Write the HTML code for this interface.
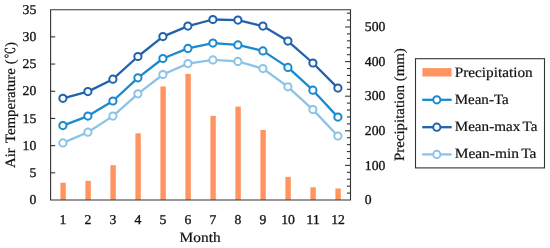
<!DOCTYPE html>
<html lang="en"><head><meta charset="utf-8"><title>Chart</title>
<style>html,body{margin:0;padding:0;background:#fff}svg{display:block}text{font-family:"Liberation Serif","DejaVu Serif","Noto Serif CJK SC",serif;fill:#111;text-rendering:geometricPrecision}</style></head>
<body>
<svg width="550" height="248" viewBox="0 0 550 248">
<rect width="550" height="248" fill="#fff"/>
<rect x="60.40" y="182.70" width="5.4" height="17.30" fill="#FF9460"/>
<rect x="85.40" y="180.90" width="5.4" height="19.10" fill="#FF9460"/>
<rect x="110.40" y="165.20" width="5.4" height="34.80" fill="#FF9460"/>
<rect x="135.40" y="133.30" width="5.4" height="66.70" fill="#FF9460"/>
<rect x="160.40" y="86.50" width="5.4" height="113.50" fill="#FF9460"/>
<rect x="185.40" y="73.90" width="5.4" height="126.10" fill="#FF9460"/>
<rect x="210.40" y="115.85" width="5.4" height="84.15" fill="#FF9460"/>
<rect x="235.40" y="106.60" width="5.4" height="93.40" fill="#FF9460"/>
<rect x="260.40" y="129.95" width="5.4" height="70.05" fill="#FF9460"/>
<rect x="285.40" y="176.85" width="5.4" height="23.15" fill="#FF9460"/>
<rect x="310.40" y="187.30" width="5.4" height="12.70" fill="#FF9460"/>
<rect x="335.40" y="188.50" width="5.4" height="11.50" fill="#FF9460"/>
<path d="M50.6 200.0 V9.7 H350.5 V200.0 Z" fill="none" stroke="#333333" stroke-width="1.1"/>
<line x1="50.6" x2="55.2" y1="172.81" y2="172.81" stroke="#333333" stroke-width="1.1"/>
<line x1="50.6" x2="55.2" y1="145.63" y2="145.63" stroke="#333333" stroke-width="1.1"/>
<line x1="50.6" x2="55.2" y1="118.44" y2="118.44" stroke="#333333" stroke-width="1.1"/>
<line x1="50.6" x2="55.2" y1="91.26" y2="91.26" stroke="#333333" stroke-width="1.1"/>
<line x1="50.6" x2="55.2" y1="64.07" y2="64.07" stroke="#333333" stroke-width="1.1"/>
<line x1="50.6" x2="55.2" y1="36.89" y2="36.89" stroke="#333333" stroke-width="1.1"/>
<line x1="346.90" x2="350.5" y1="193.08" y2="193.08" stroke="#333333" stroke-width="1.1"/>
<line x1="346.90" x2="350.5" y1="186.16" y2="186.16" stroke="#333333" stroke-width="1.1"/>
<line x1="346.90" x2="350.5" y1="179.24" y2="179.24" stroke="#333333" stroke-width="1.1"/>
<line x1="346.90" x2="350.5" y1="172.32" y2="172.32" stroke="#333333" stroke-width="1.1"/>
<line x1="345.10" x2="350.5" y1="165.40" y2="165.40" stroke="#333333" stroke-width="1.1"/>
<line x1="346.90" x2="350.5" y1="158.48" y2="158.48" stroke="#333333" stroke-width="1.1"/>
<line x1="346.90" x2="350.5" y1="151.56" y2="151.56" stroke="#333333" stroke-width="1.1"/>
<line x1="346.90" x2="350.5" y1="144.64" y2="144.64" stroke="#333333" stroke-width="1.1"/>
<line x1="346.90" x2="350.5" y1="137.72" y2="137.72" stroke="#333333" stroke-width="1.1"/>
<line x1="345.10" x2="350.5" y1="130.80" y2="130.80" stroke="#333333" stroke-width="1.1"/>
<line x1="346.90" x2="350.5" y1="123.88" y2="123.88" stroke="#333333" stroke-width="1.1"/>
<line x1="346.90" x2="350.5" y1="116.96" y2="116.96" stroke="#333333" stroke-width="1.1"/>
<line x1="346.90" x2="350.5" y1="110.04" y2="110.04" stroke="#333333" stroke-width="1.1"/>
<line x1="346.90" x2="350.5" y1="103.12" y2="103.12" stroke="#333333" stroke-width="1.1"/>
<line x1="345.10" x2="350.5" y1="96.20" y2="96.20" stroke="#333333" stroke-width="1.1"/>
<line x1="346.90" x2="350.5" y1="89.28" y2="89.28" stroke="#333333" stroke-width="1.1"/>
<line x1="346.90" x2="350.5" y1="82.36" y2="82.36" stroke="#333333" stroke-width="1.1"/>
<line x1="346.90" x2="350.5" y1="75.44" y2="75.44" stroke="#333333" stroke-width="1.1"/>
<line x1="346.90" x2="350.5" y1="68.52" y2="68.52" stroke="#333333" stroke-width="1.1"/>
<line x1="345.10" x2="350.5" y1="61.60" y2="61.60" stroke="#333333" stroke-width="1.1"/>
<line x1="346.90" x2="350.5" y1="54.68" y2="54.68" stroke="#333333" stroke-width="1.1"/>
<line x1="346.90" x2="350.5" y1="47.76" y2="47.76" stroke="#333333" stroke-width="1.1"/>
<line x1="346.90" x2="350.5" y1="40.84" y2="40.84" stroke="#333333" stroke-width="1.1"/>
<line x1="346.90" x2="350.5" y1="33.92" y2="33.92" stroke="#333333" stroke-width="1.1"/>
<line x1="345.10" x2="350.5" y1="27.00" y2="27.00" stroke="#333333" stroke-width="1.1"/>
<line x1="346.90" x2="350.5" y1="20.08" y2="20.08" stroke="#333333" stroke-width="1.1"/>
<line x1="346.90" x2="350.5" y1="13.16" y2="13.16" stroke="#333333" stroke-width="1.1"/>
<polyline points="62.9,142.9 87.9,132.2 112.9,116.1 137.9,93.8 162.9,74.5 187.9,63.6 212.9,59.9 237.9,61.4 262.9,68.6 287.9,86.8 312.9,109.6 337.9,136.0" fill="none" stroke="#8CC3E8" stroke-width="2.3" stroke-linejoin="round"/>
<circle cx="62.9" cy="142.9" r="3.6" fill="#fff" stroke="#8CC3E8" stroke-width="2"/>
<circle cx="87.9" cy="132.2" r="3.6" fill="#fff" stroke="#8CC3E8" stroke-width="2"/>
<circle cx="112.9" cy="116.1" r="3.6" fill="#fff" stroke="#8CC3E8" stroke-width="2"/>
<circle cx="137.9" cy="93.8" r="3.6" fill="#fff" stroke="#8CC3E8" stroke-width="2"/>
<circle cx="162.9" cy="74.5" r="3.6" fill="#fff" stroke="#8CC3E8" stroke-width="2"/>
<circle cx="187.9" cy="63.6" r="3.6" fill="#fff" stroke="#8CC3E8" stroke-width="2"/>
<circle cx="212.9" cy="59.9" r="3.6" fill="#fff" stroke="#8CC3E8" stroke-width="2"/>
<circle cx="237.9" cy="61.4" r="3.6" fill="#fff" stroke="#8CC3E8" stroke-width="2"/>
<circle cx="262.9" cy="68.6" r="3.6" fill="#fff" stroke="#8CC3E8" stroke-width="2"/>
<circle cx="287.9" cy="86.8" r="3.6" fill="#fff" stroke="#8CC3E8" stroke-width="2"/>
<circle cx="312.9" cy="109.6" r="3.6" fill="#fff" stroke="#8CC3E8" stroke-width="2"/>
<circle cx="337.9" cy="136.0" r="3.6" fill="#fff" stroke="#8CC3E8" stroke-width="2"/>
<polyline points="62.9,125.6 87.9,116.1 112.9,101.0 137.9,77.8 162.9,58.5 187.9,48.4 212.9,43.1 237.9,44.9 262.9,50.9 287.9,67.4 312.9,90.2 337.9,117.1" fill="none" stroke="#1A8ACF" stroke-width="2.3" stroke-linejoin="round"/>
<circle cx="62.9" cy="125.6" r="3.6" fill="#fff" stroke="#1A8ACF" stroke-width="2"/>
<circle cx="87.9" cy="116.1" r="3.6" fill="#fff" stroke="#1A8ACF" stroke-width="2"/>
<circle cx="112.9" cy="101.0" r="3.6" fill="#fff" stroke="#1A8ACF" stroke-width="2"/>
<circle cx="137.9" cy="77.8" r="3.6" fill="#fff" stroke="#1A8ACF" stroke-width="2"/>
<circle cx="162.9" cy="58.5" r="3.6" fill="#fff" stroke="#1A8ACF" stroke-width="2"/>
<circle cx="187.9" cy="48.4" r="3.6" fill="#fff" stroke="#1A8ACF" stroke-width="2"/>
<circle cx="212.9" cy="43.1" r="3.6" fill="#fff" stroke="#1A8ACF" stroke-width="2"/>
<circle cx="237.9" cy="44.9" r="3.6" fill="#fff" stroke="#1A8ACF" stroke-width="2"/>
<circle cx="262.9" cy="50.9" r="3.6" fill="#fff" stroke="#1A8ACF" stroke-width="2"/>
<circle cx="287.9" cy="67.4" r="3.6" fill="#fff" stroke="#1A8ACF" stroke-width="2"/>
<circle cx="312.9" cy="90.2" r="3.6" fill="#fff" stroke="#1A8ACF" stroke-width="2"/>
<circle cx="337.9" cy="117.1" r="3.6" fill="#fff" stroke="#1A8ACF" stroke-width="2"/>
<polyline points="62.9,98.3 87.9,91.6 112.9,79.2 137.9,56.5 162.9,36.6 187.9,26.1 212.9,19.5 237.9,20.1 262.9,26.1 287.9,41.1 312.9,63.0 337.9,88.1" fill="none" stroke="#2062AE" stroke-width="2.3" stroke-linejoin="round"/>
<circle cx="62.9" cy="98.3" r="3.6" fill="#fff" stroke="#2062AE" stroke-width="2"/>
<circle cx="87.9" cy="91.6" r="3.6" fill="#fff" stroke="#2062AE" stroke-width="2"/>
<circle cx="112.9" cy="79.2" r="3.6" fill="#fff" stroke="#2062AE" stroke-width="2"/>
<circle cx="137.9" cy="56.5" r="3.6" fill="#fff" stroke="#2062AE" stroke-width="2"/>
<circle cx="162.9" cy="36.6" r="3.6" fill="#fff" stroke="#2062AE" stroke-width="2"/>
<circle cx="187.9" cy="26.1" r="3.6" fill="#fff" stroke="#2062AE" stroke-width="2"/>
<circle cx="212.9" cy="19.5" r="3.6" fill="#fff" stroke="#2062AE" stroke-width="2"/>
<circle cx="237.9" cy="20.1" r="3.6" fill="#fff" stroke="#2062AE" stroke-width="2"/>
<circle cx="262.9" cy="26.1" r="3.6" fill="#fff" stroke="#2062AE" stroke-width="2"/>
<circle cx="287.9" cy="41.1" r="3.6" fill="#fff" stroke="#2062AE" stroke-width="2"/>
<circle cx="312.9" cy="63.0" r="3.6" fill="#fff" stroke="#2062AE" stroke-width="2"/>
<circle cx="337.9" cy="88.1" r="3.6" fill="#fff" stroke="#2062AE" stroke-width="2"/>
<text x="29.45" y="204.20" font-size="13.5" stroke="#111" stroke-width="0.3" textLength="6.85" lengthAdjust="spacingAndGlyphs">0</text>
<text x="29.45" y="177.01" font-size="13.5" stroke="#111" stroke-width="0.3" textLength="6.85" lengthAdjust="spacingAndGlyphs">5</text>
<text x="22.60" y="149.83" font-size="13.5" stroke="#111" stroke-width="0.3" textLength="13.70" lengthAdjust="spacingAndGlyphs">10</text>
<text x="22.60" y="122.64" font-size="13.5" stroke="#111" stroke-width="0.3" textLength="13.70" lengthAdjust="spacingAndGlyphs">15</text>
<text x="22.60" y="95.46" font-size="13.5" stroke="#111" stroke-width="0.3" textLength="13.70" lengthAdjust="spacingAndGlyphs">20</text>
<text x="22.60" y="68.27" font-size="13.5" stroke="#111" stroke-width="0.3" textLength="13.70" lengthAdjust="spacingAndGlyphs">25</text>
<text x="22.60" y="41.09" font-size="13.5" stroke="#111" stroke-width="0.3" textLength="13.70" lengthAdjust="spacingAndGlyphs">30</text>
<text x="22.60" y="13.90" font-size="13.5" stroke="#111" stroke-width="0.3" textLength="13.70" lengthAdjust="spacingAndGlyphs">35</text>
<text x="364.8" y="204.20" font-size="13.5" stroke="#111" stroke-width="0.3" textLength="6.85" lengthAdjust="spacingAndGlyphs">0</text>
<text x="364.8" y="169.60" font-size="13.5" stroke="#111" stroke-width="0.3" textLength="20.55" lengthAdjust="spacingAndGlyphs">100</text>
<text x="364.8" y="135.00" font-size="13.5" stroke="#111" stroke-width="0.3" textLength="20.55" lengthAdjust="spacingAndGlyphs">200</text>
<text x="364.8" y="100.40" font-size="13.5" stroke="#111" stroke-width="0.3" textLength="20.55" lengthAdjust="spacingAndGlyphs">300</text>
<text x="364.8" y="65.80" font-size="13.5" stroke="#111" stroke-width="0.3" textLength="20.55" lengthAdjust="spacingAndGlyphs">400</text>
<text x="364.8" y="31.20" font-size="13.5" stroke="#111" stroke-width="0.3" textLength="20.55" lengthAdjust="spacingAndGlyphs">500</text>
<text x="59.58" y="224.2" font-size="13.5" stroke="#111" stroke-width="0.3" textLength="6.85" lengthAdjust="spacingAndGlyphs">1</text>
<text x="84.58" y="224.2" font-size="13.5" stroke="#111" stroke-width="0.3" textLength="6.85" lengthAdjust="spacingAndGlyphs">2</text>
<text x="109.58" y="224.2" font-size="13.5" stroke="#111" stroke-width="0.3" textLength="6.85" lengthAdjust="spacingAndGlyphs">3</text>
<text x="134.57" y="224.2" font-size="13.5" stroke="#111" stroke-width="0.3" textLength="6.85" lengthAdjust="spacingAndGlyphs">4</text>
<text x="159.57" y="224.2" font-size="13.5" stroke="#111" stroke-width="0.3" textLength="6.85" lengthAdjust="spacingAndGlyphs">5</text>
<text x="184.57" y="224.2" font-size="13.5" stroke="#111" stroke-width="0.3" textLength="6.85" lengthAdjust="spacingAndGlyphs">6</text>
<text x="209.57" y="224.2" font-size="13.5" stroke="#111" stroke-width="0.3" textLength="6.85" lengthAdjust="spacingAndGlyphs">7</text>
<text x="234.57" y="224.2" font-size="13.5" stroke="#111" stroke-width="0.3" textLength="6.85" lengthAdjust="spacingAndGlyphs">8</text>
<text x="259.57" y="224.2" font-size="13.5" stroke="#111" stroke-width="0.3" textLength="6.85" lengthAdjust="spacingAndGlyphs">9</text>
<text x="281.15" y="224.2" font-size="13.5" stroke="#111" stroke-width="0.3" textLength="13.70" lengthAdjust="spacingAndGlyphs">10</text>
<text x="306.15" y="224.2" font-size="13.5" stroke="#111" stroke-width="0.3" textLength="13.70" lengthAdjust="spacingAndGlyphs">11</text>
<text x="331.15" y="224.2" font-size="13.5" stroke="#111" stroke-width="0.3" textLength="13.70" lengthAdjust="spacingAndGlyphs">12</text>
<text x="179.6" y="242" font-size="14.3" stroke="#111" stroke-width="0.2" textLength="41" lengthAdjust="spacingAndGlyphs">Month</text>
<g transform="translate(14.75 168) rotate(-90)" font-size="14.3" word-spacing="1.6" stroke="#111" stroke-width="0.2"><text x="0" y="0" textLength="99.8" lengthAdjust="spacingAndGlyphs">Air Temperature</text><text x="103.8" y="0">(</text><text x="109.6" y="0" font-size="13.5" stroke-width="0.35" textLength="11.6" lengthAdjust="spacingAndGlyphs" style="font-family:'Noto Serif CJK SC',serif">℃</text><text x="121.3" y="0">)</text></g>
<text transform="translate(404.2 160.9) rotate(-90)" font-size="14.3" stroke="#111" stroke-width="0.2" textLength="112.6" lengthAdjust="spacingAndGlyphs">Precipitation (mm)</text>
<rect x="415.5" y="58.7" width="129.0" height="109.2" fill="#fff" stroke="#333333" stroke-width="1.1"/>
<rect x="422.4" y="68.1" width="29.2" height="8.4" fill="#FF9460"/>
<text x="454.7" y="76.7" font-size="14.3" stroke="#111" stroke-width="0.2" textLength="78" lengthAdjust="spacingAndGlyphs">Precipitation</text>
<line x1="422.2" x2="451.7" y1="99.8" y2="99.8" stroke="#1A8ACF" stroke-width="2.3"/>
<circle cx="436.8" cy="99.8" r="3.6" fill="#fff" stroke="#1A8ACF" stroke-width="2"/>
<text x="454.7" y="103.8" font-size="14.3" word-spacing="-1.2" stroke="#111" stroke-width="0.2" textLength="54" lengthAdjust="spacingAndGlyphs">Mean-Ta</text>
<line x1="422.2" x2="451.7" y1="127.2" y2="127.2" stroke="#2062AE" stroke-width="2.3"/>
<circle cx="436.8" cy="127.2" r="3.6" fill="#fff" stroke="#2062AE" stroke-width="2"/>
<text x="454.7" y="131.3" font-size="14.3" word-spacing="-1.2" stroke="#111" stroke-width="0.2" textLength="82.7" lengthAdjust="spacingAndGlyphs">Mean-max Ta</text>
<line x1="422.2" x2="451.7" y1="154.4" y2="154.4" stroke="#8CC3E8" stroke-width="2.3"/>
<circle cx="436.8" cy="154.4" r="3.6" fill="#fff" stroke="#8CC3E8" stroke-width="2"/>
<text x="454.7" y="158.2" font-size="14.3" word-spacing="-1.2" stroke="#111" stroke-width="0.2" textLength="81.8" lengthAdjust="spacingAndGlyphs">Mean-min Ta</text>
</svg>
</body></html>
